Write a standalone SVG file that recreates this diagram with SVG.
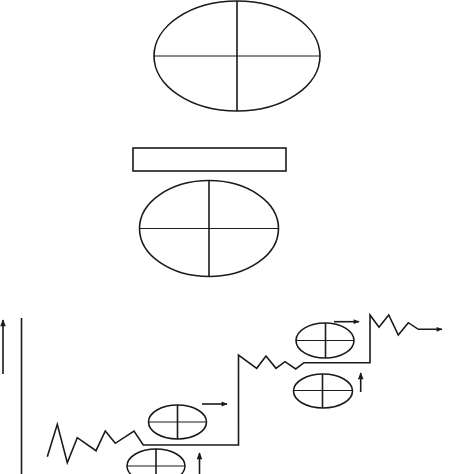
<svg xmlns="http://www.w3.org/2000/svg" width="474" height="474" viewBox="0 0 474 474">
<defs>
<style>
.s{fill:none;stroke:#1a1a1a;stroke-width:1.6;stroke-linejoin:miter}
.t{fill:none;stroke:#1a1a1a;stroke-width:1.2}
</style>
<marker id="ah" viewBox="0 0 10 10" refX="9" refY="5" markerWidth="9" markerHeight="6" markerUnits="userSpaceOnUse" orient="auto"><path d="M0,1 L10,5 L0,9 Z" fill="#1a1a1a"/></marker>
<marker id="au" viewBox="0 0 10 10" refX="9" refY="5" markerWidth="9" markerHeight="7" markerUnits="userSpaceOnUse" orient="auto"><path d="M0,1 L10,5 L0,9 Z" fill="#1a1a1a"/></marker>
</defs>
<rect width="474" height="474" fill="#fff"/>
<g id="top-ellipse">
<ellipse class="s" cx="237" cy="56" rx="83" ry="55"/>
<line class="t" x1="154" y1="56" x2="320" y2="56"/>
<line class="s" x1="237" y1="1" x2="237" y2="111"/>
</g>
<g id="bar">
<rect class="s" x="133" y="148" width="153" height="23"/>
</g>
<g id="mid-ellipse">
<ellipse class="s" cx="209" cy="228.5" rx="69.5" ry="48"/>
<line class="t" x1="139.5" y1="228.5" x2="278.5" y2="228.5"/>
<line class="s" x1="209" y1="180.5" x2="209" y2="276.5"/>
</g>
<g id="small-ellipse-1">
<ellipse class="s" cx="177.5" cy="422" rx="29" ry="17"/>
<line class="t" x1="148.5" y1="422" x2="206.5" y2="422"/>
<line class="s" x1="177.5" y1="405" x2="177.5" y2="439"/>
</g>
<g id="small-ellipse-2">
<ellipse class="s" cx="156" cy="466" rx="29" ry="17"/>
<line class="t" x1="127" y1="466" x2="185" y2="466"/>
<line class="s" x1="156" y1="449" x2="156" y2="483"/>
</g>
<g id="small-ellipse-3">
<ellipse class="s" cx="325" cy="340.5" rx="29" ry="17.5"/>
<line class="t" x1="296" y1="340.5" x2="354" y2="340.5"/>
<line class="s" x1="325.5" y1="323" x2="325.5" y2="358"/>
</g>
<g id="small-ellipse-4">
<ellipse class="s" cx="323" cy="391" rx="29.5" ry="17"/>
<line class="t" x1="293.5" y1="390.5" x2="352.5" y2="390.5"/>
<line class="s" x1="322.5" y1="374" x2="322.5" y2="408"/>
</g>
<g id="connectors">
<line class="s" x1="3" y1="374" x2="3" y2="320" marker-end="url(#au)"/>
<line class="s" x1="21.5" y1="318" x2="21.5" y2="474"/>
<polyline class="s" points="47.3,456.7 57.3,424.3 67.3,462.7 77.3,437.7 96,450.7 105.3,431 115.3,443.3 134,431 143.3,445 238.5,445 238.5,355 256.7,368.3 266,356 276,368.3 285,361.7 295.7,369 304,362.7 370,362.7 370,315 379,327.3 388.7,315 398.3,335 408.3,322.7 418.3,329.3 442,329.3" marker-end="url(#ah)"/>
<line class="s" x1="202" y1="404" x2="227" y2="404" marker-end="url(#ah)"/>
<line class="s" x1="199.5" y1="474" x2="199.5" y2="453" marker-end="url(#au)"/>
<line class="s" x1="334" y1="321.7" x2="359" y2="321.7" marker-end="url(#ah)"/>
<line class="s" x1="360.7" y1="392" x2="360.7" y2="373" marker-end="url(#au)"/>
</g>
</svg>
